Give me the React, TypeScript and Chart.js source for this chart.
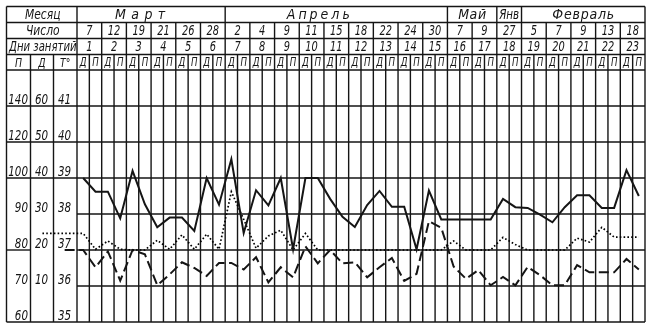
import { useEffect, useRef } from "react";
import { Chart, registerables } from "chart.js";

Chart.register(...registerables);

// ---- data ----
const monthNames = ["Март", "Апрель", "Май", "Янв", "Февраль"];
const monthDays = [6, 9, 2, 1, 5];
const dayDates = ["7", "12", "19", "21", "26", "28", "2", "4", "9", "11", "15", "18", "22", "24", "30", "7", "9", "27", "5", "7", "9", "13", "18"];
const sessionNumbers = ["1", "2", "3", "4", "5", "6", "7", "8", "9", "10", "11", "12", "13", "14", "15", "16", "17", "18", "19", "20", "21", "22", "23"];
const halfDayLabels = ["Д", "П"];
const columnHeads = ["П", "Д", "Т°"];
const tempTicks = [41, 40, 39, 38, 37, 36, 35];
const pulseTickLabels = ["140", "120", "100", "90", "80", "70", "60"];
const respTickLabels = ["60", "50", "40", "30", "20", "10", ""];

// values in the grid's temperature units (one value per half-day)
const pulseLine = [
  39.0, 38.62, 38.62, 37.88, 39.2, 38.27, 37.63, 37.9, 37.9, 37.53,
  39.0, 38.26, 39.52, 37.47, 38.66, 38.24, 39.0, 37.02, 39.0, 39.0,
  38.42, 37.92, 37.64, 38.25, 38.64, 38.2, 38.2, 37.02, 38.65, 37.85,
  37.85, 37.85, 37.85, 37.85, 38.42, 38.19, 38.17, 37.98, 37.77, 38.19,
  38.52, 38.52, 38.17, 38.17, 39.22, 38.5,
];
const respLine = [
  37.46, 37.02, 37.25, 37.02, 37.0, 37.0, 37.27, 37.02, 37.42, 37.02,
  37.44, 37.02, 38.62, 37.85, 37.05, 37.39, 37.55, 37.0, 37.46, 37.0,
  37.0, 37.0, 37.0, 37.0, 37.0, 37.0, 37.0, 37.0, 37.0, 37.0,
  37.25, 37.0, 37.0, 37.0, 37.35, 37.15, 37.0, 37.0, 37.0, 37.0,
  37.33, 37.22, 37.63, 37.36, 37.36, 37.36,
];
const tempLine = [
  37.0, 36.52, 36.96, 36.15, 37.0, 36.88, 36.02, 36.32, 36.66, 36.5,
  36.28, 36.64, 36.64, 36.46, 36.8, 36.1, 36.52, 36.24, 37.1, 36.63,
  37.0, 36.63, 36.66, 36.24, 36.52, 36.78, 36.14, 36.34, 37.8, 37.62,
  36.54, 36.2, 36.44, 36.02, 36.25, 36.02, 36.53, 36.3, 36.02, 36.02,
  36.58, 36.38, 36.38, 36.38, 36.75, 36.46,
];
const respLeadX = -2.8;
const tempLeadX = -1;

const FONT = '"DejaVu Sans Condensed", "Liberation Sans Narrow", "DejaVu Sans", sans-serif';
const INK = "#151515";

const tablePlugin = {
  id: "tempTable",
  beforeDraw(chart: any) {
    const ctx: CanvasRenderingContext2D = chart.ctx;
    const xs = chart.scales.x;
    const ys = chart.scales.y;
    const X = (v: number) => xs.getPixelForValue(v);
    const Y = (v: number) => ys.getPixelForValue(v);
    ctx.save();
    ctx.fillStyle = "#fff";
    ctx.fillRect(0, 0, chart.width, chart.height);

    const L = 6.5;
    const C1 = 30.5;
    const C2 = 53.5;
    const G0 = X(0);
    const G1 = X(46);
    const rows = [6.5, 22.5, 38.5, 54.5, Y(42)];
    const bottom = Y(35);

    ctx.strokeStyle = INK;
    ctx.lineWidth = 1.4;
    const line = (x1: number, y1: number, x2: number, y2: number) => {
      ctx.beginPath();
      ctx.moveTo(x1, y1);
      ctx.lineTo(x2, y2);
      ctx.stroke();
    };
    rows.forEach((y) => line(L, y, G1, y));
    [41, 40, 39, 35].forEach((t) => line(L, Y(t), G1, Y(t)));
    [38, 37, 36].forEach((t) => line(G0, Y(t), G1, Y(t)));
    line(L, Y(37), C1, Y(37));

    line(L, rows[0], L, bottom);
    line(C1, rows[3], C1, bottom);
    line(C2, rows[3], C2, bottom);

    const monthBounds: number[] = [0];
    monthDays.forEach((d) => monthBounds.push(monthBounds[monthBounds.length - 1] + d * 2));
    for (let k = 0; k <= 46; k++) {
      const x = X(k);
      let top = rows[3];
      if (k % 2 === 0) top = monthBounds.includes(k) ? rows[0] : rows[1];
      line(x, top, x, bottom);
    }

    ctx.fillStyle = INK;
    const text = (s: string, x: number, y: number, align: CanvasTextAlign, size: number, squeeze = 0.8) => {
      ctx.font = `italic ${size}px ${FONT}`;
      ctx.textAlign = align;
      const w = ctx.measureText(s).width;
      ctx.fillText(s, x, y, Math.max(1, w * squeeze));
    };
    const spaced = (s: string, cx: number, cy: number, width: number, size: number) => {
      ctx.font = `italic ${size}px ${FONT}`;
      ctx.textAlign = "left";
      const chars = Array.from(s);
      const ws = chars.map((c) => ctx.measureText(c).width);
      const sum = ws.reduce((a, b) => a + b, 0);
      const gap = chars.length > 1 ? (width - sum) / (chars.length - 1) : 0;
      let x = cx - width / 2;
      if (gap < 0) {
        ctx.textAlign = "center";
        ctx.fillText(s, cx, cy, width);
        return;
      }
      chars.forEach((c, i) => {
        ctx.fillText(c, x, cy);
        x += ws[i] + gap;
      });
    };

    ctx.textBaseline = "middle";
    const rc = (i: number) => (rows[i] + rows[i + 1]) / 2 + 1;
    const labelCx = (L + G0) / 2 + 1;
    text("Месяц", labelCx, rc(0), "center", 14, 0.85);
    text("Число", labelCx, rc(1), "center", 14, 0.85);
    ctx.font = `italic 14px ${FONT}`;
    ctx.textAlign = "center";
    ctx.fillText("Дни занятий", labelCx, rc(2), G0 - L - 3);

    const monthWidths = [50, 63, 28, 20, 62];
    const monthShift = [-11, -18, 0, 0, 0];
    monthNames.forEach((m, i) => {
      const cx = (X(monthBounds[i]) + X(monthBounds[i + 1])) / 2 + monthShift[i];
      spaced(m, cx, rc(0), monthWidths[i], 14);
    });
    dayDates.forEach((d, i) => {
      const cx = X(i * 2 + 1);
      text(d, cx, rc(1), "center", 14, 0.78);
    });
    sessionNumbers.forEach((s, i) => {
      const cx = X(i * 2 + 1);
      text(s, cx, rc(2), "center", 14, 0.78);
    });
    for (let k = 0; k < 46; k++) {
      text(halfDayLabels[k % 2], X(k + 0.5), rc(3), "center", 12, 0.8);
    }
    text(columnHeads[0], (L + C1) / 2, rc(3), "center", 13);
    text(columnHeads[1], (C1 + C2) / 2, rc(3), "center", 13);
    text(columnHeads[2], (C2 + G0) / 2, rc(3), "center", 13);

    ctx.textBaseline = "alphabetic";
    tempTicks.forEach((t, i) => {
      const y = Y(t) - 2;
      text(pulseTickLabels[i], 28, y, "right", 14, 0.82);
      text(respTickLabels[i], 35, y, "left", 14, 0.82);
      text(String(t), 58, y, "left", 14, 0.82);
    });
    ctx.restore();
  },
};

export default function App() {
  const ref = useRef<HTMLCanvasElement | null>(null);
  useEffect(() => {
    if (!ref.current) return;
    const chart = new Chart(ref.current, {
      type: "line",
      data: {
        datasets: [
          {
            label: "Пульс",
            data: pulseLine.map((v, i) => ({ x: i + 0.5, y: v })),
            borderColor: INK,
            borderWidth: 2,
            pointRadius: 0,
            tension: 0,
            clip: false as any,
          },
          {
            label: "Дыхание",
            data: [{ x: respLeadX, y: respLine[0] }, ...respLine.map((v, i) => ({ x: i + 0.5, y: v }))],
            borderColor: "#000",
            borderWidth: 1.7,
            borderDash: [1.6, 2.2],
            pointRadius: 0,
            tension: 0,
            clip: false as any,
          },
          {
            label: "Т°",
            data: [{ x: tempLeadX, y: tempLine[0] }, ...tempLine.map((v, i) => ({ x: i + 0.5, y: v }))],
            borderColor: INK,
            borderWidth: 2,
            borderDash: [10, 4.5],
            pointRadius: 0,
            tension: 0,
            clip: false as any,
          },
        ],
      },
      options: {
        responsive: false,
        animation: false,
        events: [],
        layout: { padding: { left: 77, right: 4, top: 70, bottom: 6 } },
        scales: {
          x: { type: "linear", min: 0, max: 46, display: false },
          y: { type: "linear", min: 35, max: 42, display: false },
        },
        plugins: { legend: { display: false }, tooltip: { enabled: false } },
      },
      plugins: [tablePlugin],
    });
    return () => chart.destroy();
  }, []);
  return (
    <div style={{ position: "absolute", left: 0, top: 0, width: 649, height: 328, background: "#fff" }}>
      <canvas ref={ref} width={649} height={328} style={{ display: "block" }} />
    </div>
  );
}
